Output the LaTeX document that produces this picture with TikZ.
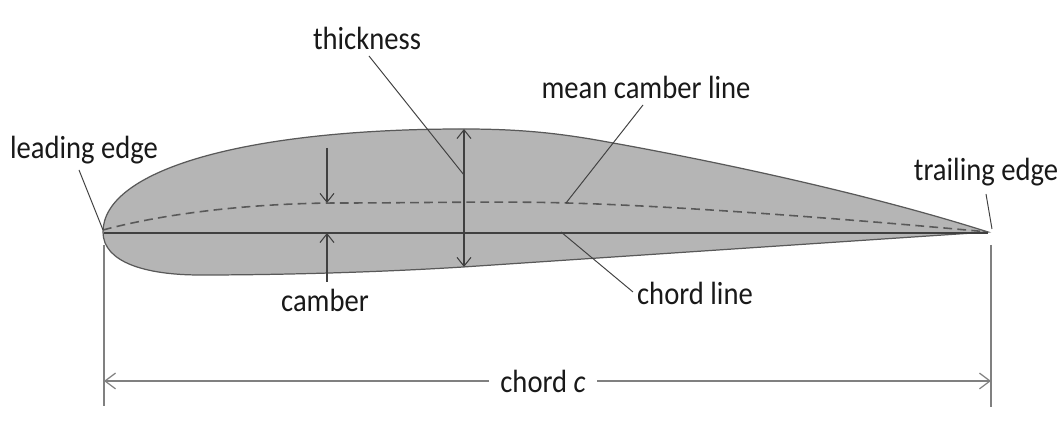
\documentclass[tikz,border=0pt]{standalone}
\usepackage{fontspec}
\setmainfont[FakeStretch=0.89]{Carlito}
\usepackage{tikz}
\usetikzlibrary{arrows.meta, positioning}

\tikzset{
    lbl/.style={font=\fontsize{18.3}{20}\selectfont, text=black!90, inner sep=0pt},
    leader/.style={line width=0.55pt, black!75},
    dim/.style={line width=0.6pt, black!75, {Straight Barb[length=5pt,width=8pt]}-{Straight Barb[length=5pt,width=8pt]}},
    oneway/.style={line width=0.6pt, black!75, -{Straight Barb[length=5pt,width=8pt]}},
    extline/.style={line width=0.7pt, black!50}
}

\begin{document}
\begin{tikzpicture}[x=0.02cm, y=-0.02cm]
    \useasboundingbox (0,0) rectangle (1063,421);

    % Draw the airfoil outline
    \draw[line width=0.7pt, draw=black!65, fill=black!29] (103,232)
        .. controls (103,170) and (245,129) .. (463,129)
        .. controls (520,129) and (560,133) .. (613,143)
        .. controls (680,155) and (850,188) .. (988,232)
        -- (463,267)
        .. controls (400,271) and (300,275) .. (200,275)
        .. controls (145,275) and (103,262) .. (103,232) -- cycle;

    % Draw the mean camber line and the chord line
    \draw[line width=0.9pt, black!65, dash pattern=on 5pt off 3pt] (103,230)
        .. controls (170,212) and (260,203) .. (340,203)
        .. controls (420,203) and (500,201) .. (567,203)
        .. controls (680,206) and (860,220) .. (988,232);
    \draw[line width=0.8pt, black!75] (104,233) -- (988,233);

    % Define positions for the labels
    \node[lbl] (leading) at (84,150) {leading edge};
    \node[lbl] (thick) at (367,38) {thickness};
    \node[lbl] (mean) at (646,87) {mean camber line};
    \node[lbl] (trailing) at (986,172) {trailing edge};
    \node[lbl] (camber) at (325,300) {camber};
    \node[lbl] (chordline) at (695,293) {chord line};
    \node[lbl] (chord) at (543,381) {chord \textit{c}};

    % Define positions for the leader ends and arrow ends
    \coordinate (Lstart) at (79,170);
    \coordinate (LE) at (103,230);
    \coordinate (Estart) at (986,194);
    \coordinate (TE) at (992,229);
    \coordinate (Tstart) at (369,56);
    \coordinate (T1) at (464,175);
    \coordinate (Mstart) at (643,105);
    \coordinate (M1) at (566,203);
    \coordinate (Cstart) at (633,292);
    \coordinate (C1) at (561,232);
    \coordinate (Ttop) at (464,129);
    \coordinate (Tbot) at (464,267);
    \coordinate (Ca) at (327,148);
    \coordinate (Cb) at (327,203);
    \coordinate (Cd) at (327,282);
    \coordinate (Cc) at (327,233);
    \coordinate (Ld) at (104,381);
    \coordinate (Rd) at (991,381);
    \coordinate (La) at (489,381);
    \coordinate (Ra) at (597,381);
    \coordinate (Ex1) at (104,245);
    \coordinate (Ex2) at (104,406);
    \coordinate (Ex3) at (991,245);
    \coordinate (Ex4) at (991,407);

    % Leaders from the labels
    \draw[leader] (Lstart) -- (LE);
    \draw[leader] (Estart) -- (TE);
    \draw[leader] (Tstart) -- (T1);
    \draw[leader] (Mstart) -- (M1);
    \draw[leader] (Cstart) -- (C1);

    % Thickness and camber arrows
    \draw[dim] (Ttop) -- (Tbot);
    \draw[oneway] (Ca) -- (Cb);
    \draw[oneway] (Cd) -- (Cc);

    % Chord dimension
    \draw[extline] (Ex1) -- (Ex2);
    \draw[extline] (Ex3) -- (Ex4);
    \draw[extline, -{Straight Barb[length=6pt,width=9pt]}] (La) -- (Ld);
    \draw[extline, -{Straight Barb[length=6pt,width=9pt]}] (Ra) -- (Rd);
\end{tikzpicture}
\end{document}
